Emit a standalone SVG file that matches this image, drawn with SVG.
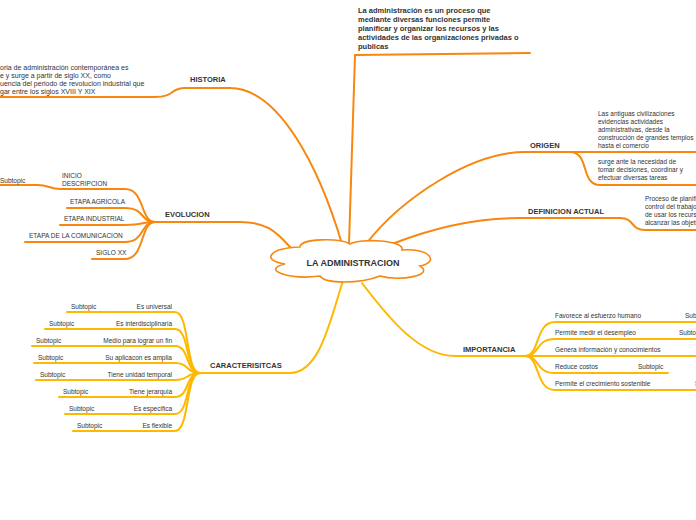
<svg xmlns="http://www.w3.org/2000/svg" width="696" height="520" viewBox="0 0 696 520">
<style>
text{font-family:"Liberation Sans",Arial,sans-serif;fill:#333;font-size:6.5px}
.b{font-weight:bold;font-size:7.5px}
.o{fill:none;stroke:#F7870F;stroke-width:2;stroke-linecap:round}
.y{fill:none;stroke:#FFB800;stroke-width:2;stroke-linecap:round}
</style>
<rect width="696" height="520" fill="#fff"/>
<g id="connectors">
<path class="o" d="M349 244 L355 55 L530 53"/>
<path class="o" d="M342 244 C320 170 280 88 230 88 L185 88 C170 88 175 97 155 97 L0 97"/>
<path class="o" d="M290 247 C275 230 265 222 240 222 L155 222"/>
<path class="o" d="M155 222 C140 222 145 189 125 189 L60 189 C50 189 48 185 38 185 L0 185"/>
<path class="o" d="M155 222 C140 222 145 208 125 208 L67 208"/>
<path class="o" d="M155 222 C140 222 145 225 125 225 L60 225"/>
<path class="o" d="M155 222 C140 222 145 242 125 242 L25 242"/>
<path class="o" d="M155 222 C140 222 145 259 125 259 L92 259"/>
<path class="o" d="M366 244 C400 200 470 152 525 152 L696 152"/>
<path class="o" d="M570 152 C590 152 580 185 600 185 L696 185"/>
<path class="o" d="M392 244 C440 225 480 218 520 218 L620 218 C635 218 630 230 645 230 L696 230"/>
<path class="y" d="M343 281 C330 320 320 373 290 373 L200 373"/>
<g>
<path class="y" d="M200 373 C185 373 190 312 175 312 L67 312"/>
<path class="y" d="M200 373 C185 373 190 329 175 329 L45 329"/>
<path class="y" d="M200 373 C185 373 190 346 175 346 L32 346"/>
<path class="y" d="M200 373 C185 373 190 363 175 363 L34 363"/>
<path class="y" d="M200 373 C185 373 190 380 175 380 L36 380"/>
<path class="y" d="M200 373 C185 373 190 397 175 397 L59 397"/>
<path class="y" d="M200 373 C185 373 190 414 175 414 L65 414"/>
<path class="y" d="M200 373 C185 373 190 431 175 431 L73 431"/>
</g>
<path class="y" d="M362 283 C390 320 420 356 455 356 L550 356"/>
<path class="y" d="M525 356 C540 356 535 322 555 322 L696 322"/>
<path class="y" d="M525 356 C540 356 535 339 555 339 L696 339"/>
<path class="y" d="M525 356 L696 356"/>
<path class="y" d="M525 356 C540 356 535 373 555 373 L668 373"/>
<path class="y" d="M525 356 C540 356 535 390 555 390 L696 390"/>
</g>
<g id="center">
<path d="M300 247 C300 238 340 238 350 244 C360 238 405 240 402 250 C430 248 440 262 420 266 C435 275 400 282 380 276 C360 284 325 284 320 276 C290 280 260 270 285 264 C260 260 270 248 300 247 Z" fill="#fff" stroke="#F7870F" stroke-width="1.6"/>
<text x="353" y="266" class="b" text-anchor="middle" style="font-size:9px">LA ADMINISTRACION</text>
</g>
<g id="def">
<text class="b" x="358" y="13">La administración es un proceso que</text>
<text class="b" x="358" y="22">mediante diversas funciones permite</text>
<text class="b" x="358" y="31">planificar y organizar los recursos y las</text>
<text class="b" x="358" y="40">actividades de las organizaciones privadas o</text>
<text class="b" x="358" y="49">publicas</text>
</g>
<g id="historia" style="font-size:7px">
<text class="b" x="190" y="82">HISTORIA</text>
<text x="0" y="70" style="font-size:7px">oria de administración contemporánea es</text>
<text x="0" y="78" style="font-size:7px">e y surge a partir de siglo XX, como</text>
<text x="0" y="86" style="font-size:7px">uencia del periodo de revolucion industrial que</text>
<text x="0" y="94" style="font-size:7px">gar entre los siglos XVIII Y XIX</text>
</g>
<g id="evolucion">
<text class="b" x="165" y="217">EVOLUCION</text>
<text x="62" y="178">INICIO</text>
<text x="62" y="186">DESCRIPCION</text>
<text x="0" y="183">Subtopic</text>
<text x="70" y="204">ETAPA AGRICOLA</text>
<text x="64" y="221">ETAPA INDUSTRIAL</text>
<text x="29" y="238">ETAPA DE LA COMUNICACION</text>
<text x="96" y="255">SIGLO XX</text>
</g>
<g id="origen">
<text class="b" x="530" y="148">ORIGEN</text>
<text x="598" y="116">Las antiguas civilizaciones</text>
<text x="598" y="124">evidencias actividades</text>
<text x="598" y="132">administrativas, desde la</text>
<text x="598" y="140">construcción de grandes templos</text>
<text x="598" y="148">hasta el comercio</text>
<text x="598" y="164">surge ante la necesidad de</text>
<text x="598" y="172">tomar decisiones, coordinar y</text>
<text x="598" y="180">efectuar diversas tareas</text>
</g>
<g id="actual">
<text class="b" x="528" y="214">DEFINICION ACTUAL</text>
<text x="645" y="201">Proceso de planificación</text>
<text x="645" y="209">control del trabajo</text>
<text x="645" y="217">de usar los recursos</text>
<text x="645" y="225">alcanzar las objetivos</text>
</g>
<g id="caracteristicas">
<text class="b" x="210" y="368">CARACTERISITCAS</text>
<g text-anchor="end">
<text x="172" y="309">Es universal</text>
<text x="172" y="326">Es interdisciplinaria</text>
<text x="172" y="343">Medio para lograr un fin</text>
<text x="172" y="360">Su aplicacon es amplia</text>
<text x="172" y="377">Tiene unidad temporal</text>
<text x="172" y="394">Tiene jerarquia</text>
<text x="172" y="411">Es especifica</text>
<text x="172" y="428">Es flexible</text>
</g>
<text x="71" y="309">Subtopic</text>
<text x="49" y="326">Subtopic</text>
<text x="36" y="343">Subtopic</text>
<text x="38" y="360">Subtopic</text>
<text x="40" y="377">Subtopic</text>
<text x="63" y="394">Subtopic</text>
<text x="69" y="411">Subtopic</text>
<text x="77" y="428">Subtopic</text>
</g>
<g id="importancia">
<text class="b" x="463" y="352">IMPORTANCIA</text>
<text x="555" y="318">Favorece al esfuerzo humano</text>
<text x="685" y="318">Subtopic</text>
<text x="555" y="335">Permite medir el desempleo</text>
<text x="679" y="335">Subtopic</text>
<text x="555" y="352">Genera información y conocimientos</text>
<text x="555" y="369">Reduce costos</text>
<text x="638" y="369">Subtopic</text>
<text x="555" y="386">Permite el crecimiento sostenible</text>
<text x="695" y="386">Subtopic</text>
</g>
</svg>
